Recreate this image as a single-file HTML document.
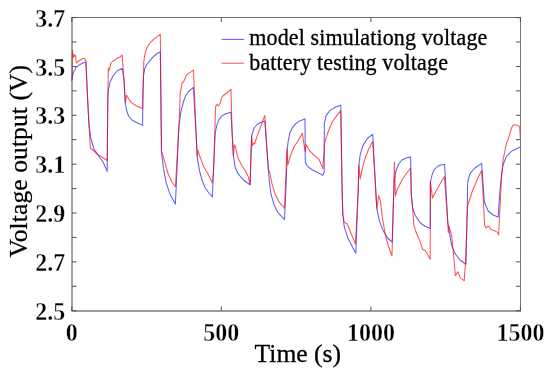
<!DOCTYPE html><html><head><meta charset="utf-8"><style>html,body{margin:0;padding:0;background:#fff;}body{width:550px;height:377px;overflow:hidden;}svg{display:block;}text{font-family:"Liberation Serif","Times New Roman",serif;fill:#000;}</style></head><body>
<svg width="550" height="377" viewBox="0 0 550 377">
<rect width="550" height="377" fill="#fff"/>
<polyline points="71.8,81.0 72.2,77.0 73.6,72.0 76.0,67.7 79.6,64.7 83.0,63.0 86.0,62.0 87.4,95.0 89.0,125.0 91.0,139.0 94.0,149.0 98.0,155.0 103.0,162.0 107.2,171.4 107.8,100.0 108.4,90.0 110.0,82.0 113.0,76.0 117.0,71.0 122.2,68.4 124.0,80.0 125.3,102.6 126.6,110.5 128.6,116.0 132.6,120.5 138.0,123.2 142.6,125.2 143.0,90.0 143.5,76.0 144.8,68.5 146.8,64.5 149.0,61.8 152.7,57.4 157.0,53.5 160.3,52.0 161.5,152.0 163.4,168.0 166.2,182.8 169.9,193.9 175.4,204.1 177.0,170.0 178.2,140.0 179.0,126.0 181.0,111.0 184.0,100.0 186.0,95.0 188.5,91.5 193.4,87.4 197.0,150.0 197.5,159.0 199.6,171.0 202.0,180.0 205.0,187.5 208.5,192.5 212.4,197.0 213.5,170.0 215.2,133.0 216.7,125.6 218.9,119.6 221.9,115.9 225.6,113.7 231.0,112.2 233.4,156.0 235.2,167.2 238.0,173.7 243.6,180.2 250.1,184.8 251.6,135.6 252.9,131.9 254.0,128.0 257.2,124.5 261.0,122.3 264.8,121.0 267.0,150.0 268.4,170.0 269.6,183.9 271.0,193.8 274.0,204.8 278.0,212.7 284.5,219.7 286.3,180.0 287.3,149.0 288.2,141.2 289.7,133.5 292.0,128.2 295.1,124.3 298.9,121.2 305.0,118.9 305.3,162.0 307.0,165.8 311.6,169.5 317.2,172.3 322.8,175.4 324.2,172.0 324.3,124.0 326.0,115.9 329.9,110.6 335.2,107.3 340.8,105.3 342.1,190.0 342.8,214.0 344.3,227.2 348.0,238.3 352.7,247.6 355.8,253.2 358.2,190.0 358.9,165.0 360.2,154.7 363.0,145.4 367.7,138.0 372.7,134.3 376.8,208.6 379.6,221.6 383.3,230.9 388.0,238.5 392.2,242.0 393.5,200.0 394.4,180.0 395.5,173.0 397.0,168.0 399.0,163.5 402.0,160.0 406.0,158.0 410.6,157.0 411.3,195.0 412.6,207.6 415.0,215.0 420.1,222.7 425.0,226.2 430.2,228.5 430.4,182.0 432.0,175.0 434.0,170.0 438.0,166.0 441.0,165.0 444.6,164.4 447.8,222.7 451.6,245.4 455.4,254.2 460.4,260.5 466.0,264.3 467.4,200.0 467.6,184.0 468.5,178.5 470.0,174.0 472.5,170.5 475.0,168.0 481.6,163.4 484.3,201.0 486.0,206.0 488.2,211.0 493.0,215.0 498.2,217.0 500.0,190.0 501.5,174.6 503.1,164.7 506.5,156.4 511.4,151.4 515.0,149.5 520.4,147.1" fill="none" stroke="#0000ff" stroke-opacity="0.64" stroke-width="1.05" stroke-linejoin="round"/>
<polyline points="72.1,80.0 72.3,50.0 73.3,57.5 74.2,54.5 75.0,56.5 75.5,55.5 76.3,63.0 78.2,61.3 80.3,60.0 82.5,58.4 84.5,58.6 85.7,60.0 87.4,95.0 89.0,125.0 90.4,148.0 92.4,149.5 97.0,154.0 102.0,157.0 107.2,160.5 107.8,100.0 108.3,68.0 108.8,71.0 110.0,67.0 111.0,63.0 113.0,61.0 115.0,60.0 117.0,58.3 120.0,57.0 122.2,55.0 124.0,80.0 125.3,102.6 126.6,95.3 128.6,98.6 131.3,102.6 136.6,106.0 142.6,108.6 143.8,62.0 144.7,55.4 145.9,50.3 148.0,45.7 150.2,42.7 153.6,39.3 160.3,34.3 161.5,152.0 162.0,152.5 164.3,160.4 168.0,173.5 171.7,181.8 175.4,186.5 178.2,140.0 179.6,112.0 180.2,92.0 181.1,89.2 182.1,82.7 183.6,81.7 185.1,78.6 186.1,75.6 188.1,73.6 190.6,72.1 193.5,70.1 197.0,156.0 198.0,150.5 199.6,155.5 203.3,166.0 208.0,174.0 212.4,183.0 213.6,170.0 215.6,107.0 216.3,105.3 217.1,104.2 218.4,106.0 220.3,103.5 221.5,97.8 222.8,96.0 225.4,94.0 228.5,91.5 231.0,89.2 232.0,130.0 233.4,156.0 234.3,144.9 235.2,145.8 238.0,157.9 241.7,165.3 245.4,170.9 248.2,176.5 250.1,184.8 251.6,135.6 252.5,145.8 253.8,143.0 254.8,144.0 256.6,137.4 259.4,130.0 264.8,115.4 267.0,150.0 268.4,170.0 269.6,171.5 272.0,183.9 275.0,193.8 278.9,201.8 284.5,208.2 286.9,150.0 287.1,149.0 287.8,164.8 290.2,156.5 293.9,147.2 298.6,139.7 302.3,133.2 305.1,151.8 306.0,144.4 309.7,150.9 314.4,155.5 319.0,159.3 322.8,168.6 324.2,150.0 324.3,143.8 326.0,138.5 328.6,130.5 332.6,121.2 336.6,115.9 340.7,110.6 342.1,190.0 342.8,214.0 344.3,222.5 347.1,223.5 350.8,232.8 355.4,243.9 358.2,190.0 358.9,165.0 360.2,178.9 362.1,169.6 364.9,158.5 368.6,149.2 372.7,141.4 376.8,208.6 378.7,195.6 380.5,201.2 382.4,217.9 385.0,232.8 388.0,245.0 392.0,256.0 394.4,162.0 395.4,196.0 397.0,190.0 402.0,180.0 406.0,174.0 410.6,168.0 411.3,195.0 412.6,207.6 413.8,225.2 416.3,232.8 420.1,241.6 422.6,249.2 425.2,250.4 430.2,259.2 430.4,181.0 432.4,198.0 435.0,193.0 440.0,184.0 444.4,176.4 447.8,222.7 448.3,232.8 449.0,226.5 451.6,235.3 452.9,247.9 454.1,260.5 455.4,275.6 457.9,271.8 460.4,278.1 464.2,280.6 465.5,263.0 467.6,206.0 472.0,192.0 477.0,180.0 481.6,170.6 483.4,200.0 484.6,225.0 486.0,228.0 487.8,226.3 489.4,226.8 491.0,229.5 494.0,230.5 497.3,232.1 498.6,235.0 501.5,178.0 503.1,159.7 506.5,143.1 508.1,139.8 511.4,128.2 513.1,124.9 516.4,124.9 519.7,126.6 520.4,139.8" fill="none" stroke="#ff0000" stroke-opacity="0.68" stroke-width="1.05" stroke-linejoin="round"/>
<path d="M72 17.5V311" fill="none" stroke="#4a4a4a" stroke-width="1"/>
<path d="M520.5 17.5V311" fill="none" stroke="#7a7a7a" stroke-width="1"/>
<path d="M71.5 17.5H521" fill="none" stroke="#6e6e6e" stroke-width="1"/>
<path d="M71.5 311H521" fill="none" stroke="#3a3a3a" stroke-width="1"/>
<path d="M72.0 310.7h4.5M520.5 310.7h-4.5M72.0 286.3h4.5M520.5 286.3h-4.5M72.0 261.9h4.5M520.5 261.9h-4.5M72.0 237.4h4.5M520.5 237.4h-4.5M72.0 213.0h4.5M520.5 213.0h-4.5M72.0 188.6h4.5M520.5 188.6h-4.5M72.0 164.2h4.5M520.5 164.2h-4.5M72.0 139.7h4.5M520.5 139.7h-4.5M72.0 115.3h4.5M520.5 115.3h-4.5M72.0 90.9h4.5M520.5 90.9h-4.5M72.0 66.5h4.5M520.5 66.5h-4.5M72.0 42.0h4.5M520.5 42.0h-4.5M72.0 17.6h4.5M520.5 17.6h-4.5M71.8 311.0v-4.5M71.8 17.5v4.5M221.3 311.0v-4.5M221.3 17.5v4.5M370.9 311.0v-4.5M370.9 17.5v4.5M520.4 311.0v-4.5M520.4 17.5v4.5" stroke="#505050" stroke-width="1" fill="none"/>
<text transform="translate(65.2 319.8) scale(1 1.035)" font-size="24" font-weight="bold" text-anchor="end" stroke="#fff" stroke-width="0.35">2.5</text>
<text transform="translate(65.2 271.0) scale(1 1.035)" font-size="24" font-weight="bold" text-anchor="end" stroke="#fff" stroke-width="0.35">2.7</text>
<text transform="translate(65.2 222.1) scale(1 1.035)" font-size="24" font-weight="bold" text-anchor="end" stroke="#fff" stroke-width="0.35">2.9</text>
<text transform="translate(65.2 173.2) scale(1 1.035)" font-size="24" font-weight="bold" text-anchor="end" stroke="#fff" stroke-width="0.35">3.1</text>
<text transform="translate(65.2 124.4) scale(1 1.035)" font-size="24" font-weight="bold" text-anchor="end" stroke="#fff" stroke-width="0.35">3.3</text>
<text transform="translate(65.2 75.6) scale(1 1.035)" font-size="24" font-weight="bold" text-anchor="end" stroke="#fff" stroke-width="0.35">3.5</text>
<text transform="translate(65.2 26.7) scale(1 1.035)" font-size="24" font-weight="bold" text-anchor="end" stroke="#fff" stroke-width="0.35">3.7</text>
<text transform="translate(71.8 340.6) scale(1 1.035)" font-size="24" font-weight="bold" text-anchor="middle" stroke="#fff" stroke-width="0.35">0</text>
<text transform="translate(221.3 340.6) scale(1 1.035)" font-size="24" font-weight="bold" text-anchor="middle" stroke="#fff" stroke-width="0.35">500</text>
<text transform="translate(370.9 340.6) scale(1 1.035)" font-size="24" font-weight="bold" text-anchor="middle" stroke="#fff" stroke-width="0.35">1000</text>
<text transform="translate(520.4 340.6) scale(1 1.035)" font-size="24" font-weight="bold" text-anchor="middle" stroke="#fff" stroke-width="0.35">1500</text>
<text x="297.8" y="362.3" font-size="25.6" text-anchor="middle" stroke="#000" stroke-width="0.3">Time (s)</text>
<text transform="translate(26.9 161.2) rotate(-90)" x="0" y="0" font-size="25.5" text-anchor="middle" textLength="192.6" lengthAdjust="spacing" stroke="#000" stroke-width="0.25">Voltage output (V)</text>
<line x1="221.6" y1="39.4" x2="244.2" y2="39.4" stroke="#0000ff" stroke-opacity="0.64" stroke-width="1.05"/>
<line x1="221.6" y1="63.2" x2="244.2" y2="63.2" stroke="#ff0000" stroke-opacity="0.68" stroke-width="1.05"/>
<text transform="translate(249.3 44.8) scale(1 1.06)" font-size="22" textLength="238" lengthAdjust="spacing" stroke="#000" stroke-width="0.3">model simulationg voltage</text>
<text transform="translate(249.3 69.6) scale(1 1.06)" font-size="22" textLength="198.6" lengthAdjust="spacing" stroke="#000" stroke-width="0.3">battery testing voltage</text>
</svg></body></html>
